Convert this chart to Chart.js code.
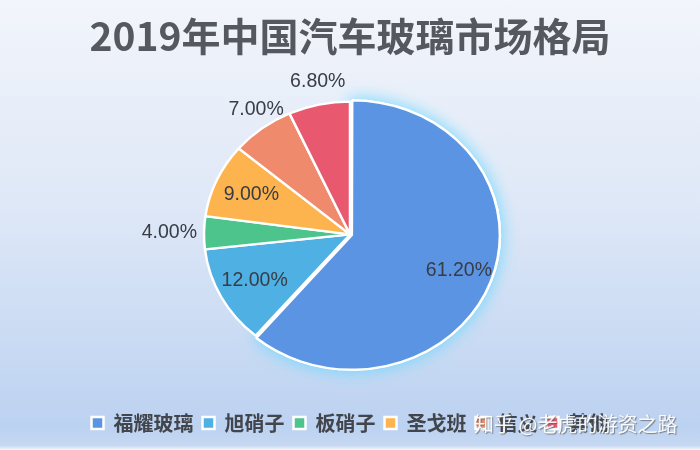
<!DOCTYPE html>
<html>
<head>
<meta charset="utf-8">
<script src="https://cdn.jsdelivr.net/npm/chart.js@4/dist/chart.umd.min.js"></script>
<style>
    html, body { margin: 0; padding: 0; }
    body { width: 700px; height: 450px; overflow: hidden; }
    .wrap {
        position: relative;
        width: 700px;
        height: 450px;
        background: linear-gradient(to bottom, #f2f5fb 0%, #dfe8f7 45%, #bcd2f1 95%, #c6d8f2 99%, #f4f7fc 100%);
    }
    .wm {
        position: absolute;
        left: 474px;
        top: 409px;
        font: 20px "Noto Sans CJK SC", sans-serif;
        color: rgba(255, 255, 255, 0.92);
        text-shadow: 1px 1px 1px rgba(90, 90, 90, 0.7);
        white-space: nowrap;
    }
</style>
</head>
<body>
<div class="wrap">
    <canvas id="pieChart" width="700" height="450"></canvas>
    <div class="wm">知乎 @老虎的游资之路</div>
</div>
<script>
const titleText = '2019年中国汽车玻璃市场格局';
const companies = ['福耀玻璃', '旭硝子', '板硝子', '圣戈班', '信义', '其他'];
const shares = [61.2, 12.0, 4.0, 9.0, 7.0, 6.8];
const sliceColors = ['#5b94e2', '#4fb0e4', '#4cc48c', '#fdb44e', '#ef8a6c', '#e8596f'];

const Y_SQUASH = 0.91; // the source picture is a bit flattened

// squash the pie vertically and give the big slice its glow
const squashPlugin = {
    id: 'squash',
    beforeDatasetsDraw(chart) {
        const ctx = chart.ctx;
        const arc = chart.getDatasetMeta(0).data[0];
        ctx.save();
        ctx.translate(arc.x, arc.y);
        ctx.scale(1, Y_SQUASH);
        ctx.translate(-arc.x, -arc.y);

        ctx.save();
        ctx.shadowColor = 'rgba(110, 215, 255, 1)';
        ctx.shadowBlur = 16;
        arc.draw(ctx);
        ctx.restore();
    },
    afterDatasetsDraw(chart) {
        chart.ctx.restore();
    }
};

// percentage labels, inside for big slices and outside for small ones
const labelPlugin = {
    id: 'sliceLabels',
    afterDatasetsDraw(chart) {
        const ctx = chart.ctx;
        const meta = chart.getDatasetMeta(0);
        ctx.save();
        ctx.font = '19.5px "Liberation Sans", Arial, sans-serif';
        ctx.fillStyle = '#383c45';
        ctx.textAlign = 'center';
        ctx.textBaseline = 'middle';
        meta.data.forEach((arc, i) => {
            const { x, y, startAngle, endAngle, outerRadius } = arc.getProps(['x', 'y', 'startAngle', 'endAngle', 'outerRadius'], true);
            const mid = (startAngle + endAngle) / 2;
            const dx = Math.cos(mid), dy = Math.sin(mid);
            const text = shares[i].toFixed(2) + '%';
            let lx, ly;
            if (shares[i] >= 9) {
                const r = outerRadius * 0.74 + (arc.options.offset || 0);
                lx = x + dx * r;
                ly = y + dy * r * Y_SQUASH;
            } else {
                const w = ctx.measureText(text).width;
                const r = outerRadius + 6;
                lx = x + dx * r + dx * Math.pow(Math.abs(dx), 4) * (w / 2 + 1);
                ly = y + dy * r * Y_SQUASH + dy * 18;
            }
            ctx.fillText(text, lx, ly);
        });
        ctx.restore();
    }
};

const ctx = document.getElementById('pieChart').getContext('2d');

new Chart(ctx, {
    type: 'pie',
    data: {
        labels: companies,
        datasets: [{
            data: shares,
            backgroundColor: sliceColors,
            borderColor: '#ffffff',
            borderWidth: 2.5,
            offset: [8, 0, 0, 0, 0, 0],
            radius: 146
        }]
    },
    options: {
        responsive: false,
        animation: false,
        rotation: 0,
        layout: { padding: { top: 0, bottom: 7, left: 0, right: 0 } },
        plugins: {
            title: {
                display: true,
                text: titleText,
                color: '#55585e',
                font: { family: '"Noto Sans CJK SC", sans-serif', size: 39, weight: 'bold', lineHeight: 1.2 },
                padding: { top: 13, bottom: 5 }
            },
            legend: {
                position: 'bottom',
                labels: {
                    color: '#42454c',
                    font: { family: '"Noto Sans CJK SC", sans-serif', size: 20, weight: 'bold' },
                    boxWidth: 12,
                    boxHeight: 12,
                    padding: 9
                }
            },
            tooltip: { enabled: false }
        }
    },
    plugins: [squashPlugin, labelPlugin]
});
</script>
</body>
</html>
